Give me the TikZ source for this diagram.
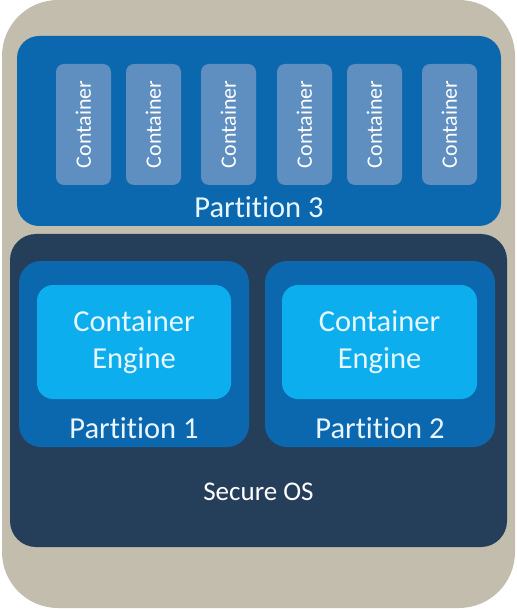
\documentclass[tikz,border=0pt]{standalone}
\usepackage{fontspec}
\setmainfont{Carlito}[Ligatures=NoCommon]
\usetikzlibrary{positioning}

\definecolor{boardbeige}{HTML}{C3BDAD}
\definecolor{osnavy}{HTML}{253F5A}
\definecolor{partblue}{HTML}{0B68AE}
\definecolor{contblue}{HTML}{5F8EC0}
\definecolor{engblue}{HTML}{0DAEEE}
\definecolor{lbltext}{HTML}{E8F6FF}

\begin{document}
\begin{tikzpicture}[
    x=1pt, y=-1pt,
    box-elm/.style = {rectangle, inner sep=0pt, text centered},
    board-elm/.style = {box-elm, fill=boardbeige, rounded corners=56pt},
    os-elm/.style = {box-elm, fill=osnavy, rounded corners=26pt},
    part-elm/.style = {box-elm, fill=partblue, rounded corners=22pt},
    eng-elm/.style = {box-elm, fill=engblue, rounded corners=16pt, text=lbltext,
      align=center, font=\fontsize{30.5}{37}\selectfont},
    cont-elm/.style = {box-elm, fill=contblue, rounded corners=8pt, rotate=90,
      minimum width=121pt, minimum height=55pt, text=white,
      font=\fontsize{22}{26}\selectfont},
    lbl/.style = {inner sep=0pt, text=lbltext, font=\fontsize{30.5}{36}\selectfont}
  ]
  \useasboundingbox (0,0) rectangle (516,609);

  % layers, from back to front
  \node[board-elm, minimum width=513pt, minimum height=608pt] (board) at (258.5,304) {};
  \node[os-elm, minimum width=497pt, minimum height=313pt] (os) at (258.5,390.5) {};
  \node[part-elm, minimum width=484pt, minimum height=190pt] (part3) at (259,131) {};
  \node[part-elm, minimum width=230pt, minimum height=186pt] (part1) at (134,354) {};
  \node[part-elm, minimum width=230pt, minimum height=186pt] (part2) at (380,354) {};

  % containers of partition 3
  \foreach \cx [count=\i] in {83.5,153.5,228.5,304.5,374.5,449.5}
    \node[cont-elm] (c\i) at (\cx,124.5) {Container};

  % engines
  \node[eng-elm, minimum width=194pt, minimum height=114pt] (eng1) at (134,342) {Container\\Engine};
  \node[eng-elm, minimum width=195pt, minimum height=114pt] (eng2) at (379.5,342) {Container\\Engine};

  % labels
  \node[lbl] (p3lbl) at ([yshift=19pt]part3.south) {Partition 3};
  \node[lbl] (p1lbl) at ([yshift=19pt]part1.south) {Partition 1};
  \node[lbl] (p2lbl) at ([yshift=19pt]part2.south) {Partition 2};
  \node[lbl, text=white, font=\fontsize{27}{32}\selectfont] (oslbl) at ([yshift=55pt]os.south) {Secure OS};
\end{tikzpicture}
\end{document}
